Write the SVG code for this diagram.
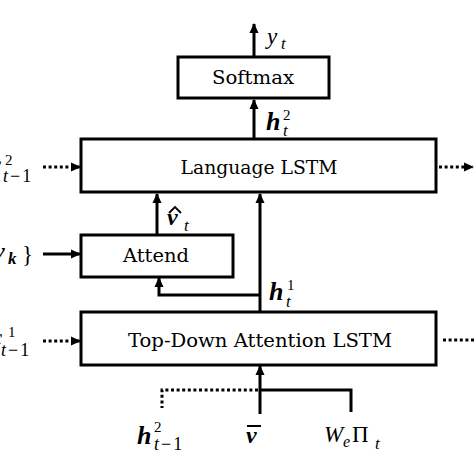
<svg xmlns="http://www.w3.org/2000/svg" width="474" height="474" viewBox="0 0 474 474">
<defs>
<marker id="ah" markerUnits="userSpaceOnUse" markerWidth="10" markerHeight="10" refX="9" refY="5" orient="auto">
<path d="M0,0.5 L10,5 L0,9.5 z" fill="#000"/>
</marker>
<style>
.box{fill:#fff;stroke:#000;stroke-width:3}
.lbl{font-family:"DejaVu Serif","Liberation Serif",serif;font-size:18px;fill:#000;text-anchor:middle}
.ln{fill:none;stroke:#000;stroke-width:3}
.dot{fill:none;stroke:#000;stroke-width:3;stroke-dasharray:3 2.6}
.m{font-family:"Liberation Serif","DejaVu Serif",serif;font-style:italic;fill:#000}
.mb{font-family:"Liberation Serif","DejaVu Serif",serif;font-style:italic;font-weight:bold;fill:#000}
.mr{font-family:"Liberation Serif","DejaVu Serif",serif;fill:#000}
.up{font-style:normal}
</style>
</defs>
<rect width="474" height="474" fill="#fff"/>

<g id="connectors">
<line class="ln" x1="254" y1="57" x2="254" y2="24" marker-end="url(#ah)"/>
<line class="ln" x1="254" y1="139" x2="254" y2="100" marker-end="url(#ah)"/>
<line class="ln" x1="157" y1="235" x2="157" y2="194" marker-end="url(#ah)"/>
<line class="ln" x1="260" y1="312" x2="260" y2="194" marker-end="url(#ah)"/>
<path class="ln" d="M260,295 H159 V278" marker-end="url(#ah)"/>
<line class="ln" x1="43" y1="254" x2="80" y2="254" marker-end="url(#ah)"/>
<line class="dot" x1="43" y1="167" x2="80" y2="167" marker-end="url(#ah)"/>
<line class="dot" x1="439" y1="167" x2="473" y2="167" marker-end="url(#ah)"/>
<line class="dot" x1="43" y1="341" x2="80" y2="341" marker-end="url(#ah)"/>
<line class="dot" x1="443" y1="340" x2="474" y2="340"/>
<line class="ln" x1="260" y1="414" x2="260" y2="366" marker-end="url(#ah)"/>
<path class="ln" d="M260,390 H351 V412"/>
<path class="dot" d="M258,390 H162 V408"/>
</g>

<g id="softmax">
<rect class="box" x="178" y="57" width="151" height="41"/>
<text class="lbl" x="253" y="84" textLength="82" lengthAdjust="spacingAndGlyphs">Softmax</text>
</g>
<g id="language-lstm">
<rect class="box" x="81" y="139" width="355" height="53"/>
<text class="lbl" x="259" y="174" textLength="157" lengthAdjust="spacingAndGlyphs">Language LSTM</text>
</g>
<g id="attend">
<rect class="box" x="81" y="235" width="152" height="42"/>
<text class="lbl" x="156" y="262" textLength="66" lengthAdjust="spacingAndGlyphs">Attend</text>
</g>
<g id="top-down-lstm">
<rect class="box" x="81" y="312" width="355" height="53"/>
<text class="lbl" x="260" y="347" textLength="264" lengthAdjust="spacingAndGlyphs">Top-Down Attention LSTM</text>
</g>

<g id="labels">
<!-- y_t -->
<text class="m" x="267" y="44" font-size="23">y</text>
<text class="m" x="281" y="49" font-size="17">t</text>
<!-- h_t^2 -->
<text class="mb" x="266" y="130" font-size="26">h</text>
<text class="mr" x="283" y="120" font-size="15">2</text>
<text class="m" x="283" y="136" font-size="17">t</text>
<!-- v hat t -->
<text class="mb" x="167" y="225" font-size="24">v</text>
<path d="M169,213 L175,207 L181,213" fill="none" stroke="#000" stroke-width="1.8"/>
<text class="m" x="184" y="231" font-size="17">t</text>
<!-- h_t^1 -->
<text class="mb" x="269" y="300" font-size="26">h</text>
<text class="mr" x="287" y="290" font-size="15">1</text>
<text class="m" x="286" y="307" font-size="17">t</text>
<!-- h_{t-1}^2 -->
<text class="mb" x="137" y="444" font-size="26">h</text>
<text class="mr" x="154" y="432" font-size="15">2</text>
<text class="m" x="154" y="450" font-size="18">t<tspan class="up" dx="2">−</tspan><tspan class="up" dx="2">1</tspan></text>
<!-- v bar -->
<text class="mb" x="246" y="443" font-size="24">v</text>
<line x1="247" y1="426" x2="261" y2="426" stroke="#000" stroke-width="2"/>
<!-- W_e Pi_t -->
<text class="m" x="324" y="442" font-size="23">W</text>
<text class="m" x="343" y="447" font-size="16">e</text>
<text class="mr" x="352" y="442" font-size="23">Π</text>
<text class="m" x="375" y="449" font-size="17">t</text>
<!-- c_{t-1}^2 (cut off) -->
<text class="m" x="-9" y="172" font-size="23">c</text>
<text class="mr" x="5" y="165" font-size="15">2</text>
<text class="m" x="3" y="182" font-size="18">t<tspan class="up" dx="2">−</tspan><tspan class="up" dx="2">1</tspan></text>
<!-- {v_k} (cut off) -->
<text class="mb" x="-6" y="259" font-size="24">v</text>
<text class="mb" x="8" y="264" font-size="17">k</text>
<text class="mr" x="22" y="262" font-size="23">}</text>
<!-- c_{t-1}^1 (cut off) -->
<text class="m" x="-8" y="345" font-size="23">c</text>
<text class="mr" x="8" y="337" font-size="15">1</text>
<text class="m" x="1" y="356" font-size="18">t<tspan class="up" dx="2">−</tspan><tspan class="up" dx="2">1</tspan></text>
</g>
</svg>
